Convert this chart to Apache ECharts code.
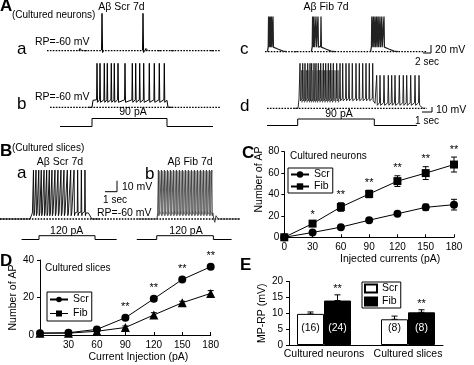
<!DOCTYPE html>
<html><head><meta charset="utf-8">
<script src="https://cdn.jsdelivr.net/npm/echarts@6/dist/echarts.min.js"></script>
<style>html,body{margin:0;padding:0;background:#fff;}#chart{width:474px;height:365px;}</style>
</head><body><div id="chart"></div>
<script>
const FONT = '"Liberation Sans", Arial, Helvetica, sans-serif';
const RP = -60; // resting potential, mV

// ---------- Panel C : cultured neurons ----------
const currents = [0, 30, 60, 90, 120, 150, 180];
const cScr = [0, 4.5, 9.5, 16, 22, 28, 30.5];
const cScrErr = [0.5, 1, 1, 1.2, 1.5, 3, 5];
const cFib = [0, 12.8, 28.3, 40.5, 52.5, 60, 68];
const cFibErr = [0.5, 1.5, 4, 3.5, 5, 6, 7];
const cSig = ['', '*', '**', '**', '**', '**', '**'];

// ---------- Panel D : cultured slices ----------
const dScr = [1, 1.2, 3, 9.2, 19.3, 29.6, 36.4];
const dScrErr = [0.3, 0.3, 0.5, 1, 1, 1, 1];
const dFib = [1, 1, 2, 4, 10.7, 17.2, 22.2];
const dFibErr = [0.2, 0.2, 0.5, 0.8, 1.2, 0.8, 1.5];
const dSig = ['', '', '', '**', '**', '**', '**'];

// ---------- Panel E : MP-RP ----------
const eGroups = ['Cultured neurons', 'Cultured slices'];
const eScr = [9.8, 8.1];
const eScrErr = [0.6, 1.0];
const eFib = [14.0, 10.3];
const eFibErr = [1.8, 0.8];
const eScrN = ['(16)', '(8)'];
const eFibN = ['(24)', '(8)'];
const eSig = ['**', '**'];

// ---------- Panel A traces (time s, membrane potential mV) ----------
const aSpikes = [5.5, 9.6];
const aPeak = 23;
const aBumps = [[3.3, -55], [3.8, -56], [9.9, -55], [11.2, -57], [12.5, -56], [16.5, -57]];
const bStep = [4.5, 12.0];
const bLevel = -46;
const bPeak = 28;
const bSpikes = [5.0, 5.3, 5.73, 6.03, 6.43, 6.73, 7.1, 7.8, 8.53, 8.87, 9.27, 9.67, 10.23, 10.73, 11.23, 11.73];
const cBursts = [[0.9, 1.25, 1.6, 2.0], [11.9, 12.25, 12.75, 13.25, 14.0], [26.7, 27.1, 27.5, 27.9, 28.3, 28.75, 29.2, 29.75]];
const cPeak = 18;
const cBumps = [[7.5, -56]];
const dStep = [3.1, 10.7];
const dLevel = -41;
const dPeak = 30;
const dSpikes = [3.3, 3.57, 3.8, 4.07, 4.3, 4.47, 4.7, 4.9, 5.13, 5.37, 5.63, 5.87, 6.13, 6.37, 6.63, 6.97, 7.3, 7.57, 7.9, 8.2, 8.53, 8.9, 9.23, 9.57, 9.9, 10.23, 10.57];
const dSpikes2 = [3.45, 3.7, 3.95, 4.2, 4.4, 4.6, 4.8, 5.0, 5.25, 5.5, 5.75, 6.0, 6.25, 6.5, 6.8, 7.1];
const dPeak2 = 16;
const dAfter = [10.97, 11.3, 11.7, 12.13, 12.47, 12.8, 13.23, 13.63, 13.97, 14.37, 14.8, 15.2];
const dAfterLevel = -50;
const dAfterPeak = 6;
// current commands (pA)
const cmdA = 90;
const cmdALeft = {range: [1.3, 16.6], step: [4.5, 12.0]};
const cmdARight = {range: [0, 15.0], step: [3.07, 10.73]};

// ---------- Panel B traces ----------
const sStepA = [2.5, 7.36];
const sSpikesA = [2.79, 3.0, 3.23, 3.44, 3.67, 3.89, 4.11, 4.33, 4.58, 4.83, 5.08, 5.33, 5.61, 5.89, 6.17, 6.47, 6.78, 7.08];
const sStepB = [13.08, 17.78];
const sSpikesB = [13.2, 13.45, 13.7, 13.95, 14.2, 14.45, 14.7, 14.95, 15.2, 15.45, 15.7, 15.95, 16.2, 16.45, 16.7, 16.95, 17.2, 17.45, 17.65];
const sSpikesB2 = [13.3, 13.55, 13.8, 14.05, 14.3, 14.58, 14.82, 15.08, 15.32, 15.58, 15.82, 16.08, 16.32, 16.58, 16.82, 17.08, 17.32, 17.55];
const sLevel = -54.5;
const sPeak = -15.5;
const cmdB = 120;
const cmdBLeft = {range: [1.8, 9.72], step: [3.25, 7.92]};
const cmdBRight = {range: [11.4, 19.3], step: [13.06, 17.78]};

// =====================================================
const grids = [], xAxis = [], yAxis = [], series = [], graphic = [];

function hiddenPanel(left, top, width, height, xr, yr) {
  const i = grids.length;
  grids.push({left, top, width, height, outerBoundsMode: 'none'});
  xAxis.push({gridIndex: i, type: 'value', min: xr[0], max: xr[1], show: false});
  yAxis.push({gridIndex: i, type: 'value', min: yr[0], max: yr[1], show: false});
  return i;
}
function addLine(g, data, color, width, dash, z) {
  series.push({type: 'line', xAxisIndex: g, yAxisIndex: g, data, symbol: 'none', clip: false, silent: true,
    connectNulls: false, lineStyle: {color, width, type: dash || 'solid'}, z: z || 3});
}
function spikesAt(times, level, peak, w, ahp, gap) {
  const d = [];
  times.forEach(t => {
    d.push([t - w, level + 1], [t, peak], [t + w * 1.2, level - ahp], [t + w * 3, level]);
    if (gap) d.push([t + w * 3, null]);
  });
  return d;
}
function bumpsAt(bumps, w) {
  const d = [];
  bumps.forEach(b => d.push([b[0] - w, RP], [b[0], b[1]], [b[0] + w * 1.5, RP], [b[0] + w * 1.5, null]));
  return d;
}
function cmdTrace(c, amp) {
  return [[c.range[0], 0], [c.step[0], 0], [c.step[0], amp], [c.step[1], amp], [c.step[1], 0], [c.range[1], 0]];
}
const DOT = [1.6, 1.3];

// ---- A a ----
const gAa = hiddenPanel(47, 10.2, 173, 42.75, [0, 17.3], [-65, 30]);
addLine(gAa, [[0, RP], [17.3, RP]], '#000', 1.3, DOT, 2);
addLine(gAa, spikesAt(aSpikes, RP, aPeak, 0.05, 4, true).concat(bumpsAt(aBumps, 0.12)), '#000', 1);
// ---- A b ----
const gAb = hiddenPanel(47, 59.8, 173, 50, [0, 17.3], [-65, 35]);
addLine(gAb, [[0.3, RP], [17.3, RP]], '#000', 1.3, DOT, 2);
addLine(gAb, [[bStep[0] - 0.4, RP], [bStep[0], RP], [bStep[0] + 0.1, bLevel]]
  .concat(spikesAt(bSpikes, bLevel, bPeak, 0.04, 4, false))
  .concat([[bStep[1], bLevel], [bStep[1] + 0.1, RP], [bStep[1] + 0.6, RP]]), '#000', 1);
// ---- A c ----
const gAc = hiddenPanel(265, 11.2, 162, 42.75, [0, 40.5], [-65, 30]);
addLine(gAc, [[0, RP], [40.5, RP]], '#000', 1.3, DOT, 2);
(function () {
  let d = [];
  cBursts.forEach(b => {
    const s = b[0], e = b[b.length - 1];
    d.push([s - 0.3, RP], [s - 0.1, RP]);
    b.forEach(t => d.push([t - 0.08, -48], [t, cPeak], [t + 0.1, -50]));
    d.push([e + 0.3, -47], [e + 1.2, -54], [e + 2.5, -58.5], [e + 3.5, RP], [e + 3.5, null]);
  });
  d = d.concat(bumpsAt(cBumps, 0.3));
  addLine(gAc, d, '#222', 1.3);
})();
// ---- A d ----
const gAd = hiddenPanel(267, 60.8, 160, 50, [0, 16], [-65, 35]);
addLine(gAd, [[0, RP], [16, RP]], '#000', 1.3, DOT, 2);
addLine(gAd, [[2.7, RP], [dStep[0], RP], [dStep[0] + 0.1, dLevel]]
  .concat(spikesAt(dSpikes, dLevel, dPeak, 0.04, 4, false))
  .concat([[dStep[1], dLevel], [dStep[1] + 0.1, dAfterLevel]])
  .concat(spikesAt(dAfter, dAfterLevel, dAfterPeak, 0.05, 4, false))
  .concat([[15.45, dAfterLevel], [15.6, RP], [15.8, RP]]), '#111', 0.9);
addLine(gAd, spikesAt(dSpikes2, dLevel - 2, dPeak2, 0.04, 5, true), '#444', 0.8);
// ---- A commands ----
const gCmdAL = hiddenPanel(47, 118.5, 173, 8, [0, 17.3], [0, cmdA]);
addLine(gCmdAL, cmdTrace(cmdALeft, cmdA), '#000', 1);
const gCmdAR = hiddenPanel(267, 119, 160, 6.5, [0, 16], [0, cmdA]);
addLine(gCmdAR, cmdTrace(cmdARight, cmdA), '#000', 1);

// ---- B traces ----
const gB = hiddenPanel(0, 166.2, 240, 55, [0, 20], [-62, -12]);
addLine(gB, [[0, RP], [20, RP]], '#000', 1.3, DOT, 2);
addLine(gB, [[0, RP], [sStepA[0], RP], [sStepA[0] + 0.2, sLevel]]
  .concat(spikesAt(sSpikesA, sLevel, sPeak, 0.03, 2.5, false))
  .concat([[sStepA[1], sLevel], [sStepA[1] + 0.3, RP], [8.3, RP]]), '#000', 0.9);
addLine(gB, [[11.5, RP], [sStepB[0], RP], [sStepB[0] + 0.06, sLevel]]
  .concat(spikesAt(sSpikesB, sLevel, sPeak, 0.03, 2.5, false))
  .concat([[sStepB[1], sLevel], [sStepB[1] + 0.03, RP], [sStepB[1] + 0.12, -63], [sStepB[1] + 0.22, -57], [sStepB[1] + 0.4, RP], [20, RP]]), '#333', 0.9);
addLine(gB, spikesAt(sSpikesB2, sLevel + 0.8, sPeak - 1, 0.03, 2, true), '#777', 0.8);
const gCmdB = hiddenPanel(0, 235.7, 240, 3.8, [0, 20], [0, cmdB]);
addLine(gCmdB, cmdTrace(cmdBLeft, cmdB), '#000', 1);
addLine(gCmdB, cmdTrace(cmdBRight, cmdB), '#000', 1);

// ---------- helpers for plots ----------
const axisTxt = {color: '#000', fontSize: 10, fontFamily: FONT};
function errSeries(g, data, cap, z) {
  series.push({type: 'custom', xAxisIndex: g, yAxisIndex: g, data, silent: true, z: z || 4,
    encode: {x: 0, y: [1, 2]},
    renderItem: (p, api) => {
      const x = api.value(0), lo = api.value(1), hi = api.value(2);
      const a = api.coord([x, hi]), b = api.coord([x, lo]);
      const st = {stroke: '#000', lineWidth: 1};
      return {type: 'group', children: [
        {type: 'line', shape: {x1: a[0], y1: a[1], x2: b[0], y2: b[1]}, style: st},
        {type: 'line', shape: {x1: a[0] - cap, y1: a[1], x2: a[0] + cap, y2: a[1]}, style: st},
        {type: 'line', shape: {x1: b[0] - cap, y1: b[1], x2: b[0] + cap, y2: b[1]}, style: st}
      ]};
    }});
}
function sigSeries(g, data, texts, off, fs) {
  series.push({type: 'custom', xAxisIndex: g, yAxisIndex: g, data, silent: true, z: 5,
    encode: {x: 0, y: 1},
    renderItem: (p, api) => {
      const c = api.coord([api.value(0), api.value(1)]);
      return {type: 'text', x: c[0], y: c[1] - off,
        style: {text: texts[p.dataIndex], align: 'center', verticalAlign: 'bottom', fontSize: fs || 11, fontFamily: FONT, fill: '#000'}};
    }});
}

// ---------- Panel C ----------
const gC = grids.length;
grids.push({left: 284.3, top: 151.7, width: 169.7, height: 85.6, outerBoundsMode: 'none'});
xAxis.push({gridIndex: gC, type: 'value', min: 0, max: 180, interval: 30,
  name: 'Injected currents (pA)', nameLocation: 'middle', nameGap: 16,
  nameTextStyle: {color: '#000', fontSize: 10.5, fontFamily: FONT, padding: [0, 0, 0, 42]},
  axisLine: {show: true, lineStyle: {color: '#000', width: 1}},
  axisTick: {show: true, inside: true, length: 3, lineStyle: {color: '#000'}},
  axisLabel: Object.assign({margin: 5}, axisTxt), splitLine: {show: false}});
yAxis.push({gridIndex: gC, type: 'value', min: 0, max: 80, interval: 20,
  name: 'Number of AP', nameLocation: 'middle', nameGap: 17, nameRotate: 90,
  nameTextStyle: {color: '#000', fontSize: 10.5, fontFamily: FONT, padding: [0, 0, 0, 30]},
  axisLine: {show: true, lineStyle: {color: '#000', width: 1}},
  axisTick: {show: true, length: 3, lineStyle: {color: '#000'}},
  axisLabel: Object.assign({margin: 5}, axisTxt), splitLine: {show: false}});
errSeries(gC, currents.map((x, i) => [x, cScr[i] - cScrErr[i], cScr[i] + cScrErr[i]]), 3);
errSeries(gC, currents.map((x, i) => [x, cFib[i] - cFibErr[i], cFib[i] + cFibErr[i]]), 3);
series.push({type: 'line', name: 'Scr', xAxisIndex: gC, yAxisIndex: gC, data: currents.map((x, i) => [x, cScr[i]]),
  symbol: 'circle', symbolSize: 8, itemStyle: {color: '#000'}, lineStyle: {color: '#000', width: 1}, z: 6});
series.push({type: 'line', name: 'Fib', xAxisIndex: gC, yAxisIndex: gC, data: currents.map((x, i) => [x, cFib[i]]),
  symbol: 'rect', symbolSize: 8, itemStyle: {color: '#000'}, lineStyle: {color: '#000', width: 1}, z: 6});
sigSeries(gC, currents.map((x, i) => [x, cFib[i] + cFibErr[i]]), cSig, 2);

// ---------- Panel D ----------
const gD = grids.length;
grids.push({left: 40, top: 260, width: 170.7, height: 75, outerBoundsMode: 'none'});
xAxis.push({gridIndex: gD, type: 'value', min: 0, max: 180, interval: 30,
  name: 'Current Injection (pA)', nameLocation: 'middle', nameGap: 17,
  nameTextStyle: {color: '#000', fontSize: 10.5, fontFamily: FONT, padding: [0, 0, 0, 26]},
  axisLine: {show: true, lineStyle: {color: '#000', width: 1}},
  axisTick: {show: true, inside: true, length: 3, lineStyle: {color: '#000'}},
  axisLabel: Object.assign({margin: 5, formatter: v => (v === 0 ? '' : v)}, axisTxt), splitLine: {show: false}});
yAxis.push({gridIndex: gD, type: 'value', min: 0, max: 40, interval: 20,
  name: 'Number of AP', nameLocation: 'middle', nameGap: 21, nameRotate: 90,
  nameTextStyle: {color: '#000', fontSize: 10.5, fontFamily: FONT},
  axisLine: {show: true, lineStyle: {color: '#000', width: 1}},
  axisTick: {show: true, length: 3, lineStyle: {color: '#000'}},
  axisLabel: Object.assign({margin: 6}, axisTxt), splitLine: {show: false}});
errSeries(gD, currents.map((x, i) => [x, dScr[i] - dScrErr[i], dScr[i] + dScrErr[i]]), 3);
errSeries(gD, currents.map((x, i) => [x, dFib[i] - dFibErr[i], dFib[i] + dFibErr[i]]), 3);
series.push({type: 'line', name: 'Scr', xAxisIndex: gD, yAxisIndex: gD, data: currents.map((x, i) => [x, dScr[i]]),
  symbol: 'circle', symbolSize: 8, itemStyle: {color: '#000'}, lineStyle: {color: '#000', width: 1}, z: 6});
series.push({type: 'line', name: 'Fib (slices)', xAxisIndex: gD, yAxisIndex: gD, data: currents.map((x, i) => [x, dFib[i]]),
  symbol: 'triangle', symbolSize: 9, itemStyle: {color: '#000'}, lineStyle: {color: '#000', width: 1}, z: 6});
sigSeries(gD, currents.map((x, i) => [x, dScr[i] + dScrErr[i]]), dSig, 3);

// ---------- Panel E ----------
const eX = [35, 119];   // group centres on the x axis of the bar panel
const eHalf = 13.5;
const gE = grids.length;
grids.push({left: 289, top: 281.5, width: 154, height: 63.5, outerBoundsMode: 'none'});
xAxis.push({gridIndex: gE, type: 'value', min: 0, max: 154,
  axisLine: {show: true, lineStyle: {color: '#000', width: 1}},
  axisTick: {show: false},
  axisLabel: Object.assign({margin: 4, customValues: eX, formatter: v => eGroups[eX.indexOf(v)] || '', fontSize: 10.5}, {color: '#000', fontFamily: FONT}),
  splitLine: {show: false}});
yAxis.push({gridIndex: gE, type: 'value', min: 0, max: 20, interval: 5,
  name: 'MP-RP (mV)', nameLocation: 'middle', nameGap: 21, nameRotate: 90,
  nameTextStyle: {color: '#000', fontSize: 10.5, fontFamily: FONT},
  axisLine: {show: true, lineStyle: {color: '#000', width: 1}},
  axisTick: {show: true, length: 3, lineStyle: {color: '#000'}},
  axisLabel: Object.assign({margin: 6}, axisTxt), splitLine: {show: false}});
errSeries(gE, eX.map((x, i) => [x - eHalf, eScr[i], eScr[i] + eScrErr[i]]), 3, 2);
errSeries(gE, eX.map((x, i) => [x + eHalf, eFib[i], eFib[i] + eFibErr[i]]), 3, 2);
series.push({type: 'bar', name: 'Scr bar', xAxisIndex: gE, yAxisIndex: gE, barWidth: 27, barGap: '0%',
  data: eX.map((x, i) => [x, eScr[i]]), itemStyle: {color: '#fff', borderColor: '#000', borderWidth: 1}, z: 3,
  label: {show: true, position: 'insideBottom', distance: 11, formatter: p => eScrN[p.dataIndex], color: '#000', fontSize: 10.5, fontFamily: FONT}});
series.push({type: 'bar', name: 'Fib bar', xAxisIndex: gE, yAxisIndex: gE, barWidth: 27, barGap: '0%',
  data: eX.map((x, i) => [x, eFib[i]]), itemStyle: {color: '#000', borderColor: '#000', borderWidth: 1}, z: 3,
  label: {show: true, position: 'insideBottom', distance: 11, formatter: p => eFibN[p.dataIndex], color: '#fff', fontSize: 10.5, fontFamily: FONT}});
sigSeries(gE, eX.map((x, i) => [x + eHalf, eFib[i] + eFibErr[i]]), eSig, 0);

// ---------- texts ----------
function T(text, x, y, size, opts) {
  graphic.push(Object.assign({type: 'text', x, y, silent: true,
    style: Object.assign({text, fontSize: size, fontFamily: FONT, fill: '#000', align: 'left', verticalAlign: 'middle'}, opts || {})}));
}
const B = {fontWeight: 'bold'}, C = {align: 'center'};
T('A', 0, 6, 17, B); T('B', 0, 151, 17, B); T('C', 242, 153, 17, B); T('D', 0, 261, 17, B); T('E', 240, 265, 17, B);
T('(Cultured neurons)', 12, 15, 10);
T('Aβ Scr 7d', 121.5, 7, 10.5, C); T('Aβ Fib 7d', 326, 7, 10.5, C);
T('RP=-60 mV', 35, 42, 10.5); T('RP=-60 mV', 35, 97, 10.5);
T('a', 17, 49, 17); T('b', 17, 104, 17); T('c', 240, 49, 17); T('d', 240, 106, 17);
T('20 mV', 435, 50, 10.5); T('2 sec', 427, 62, 10, C);
T('10 mV', 436, 110, 10.5); T('1 sec', 427, 121, 10, C);
T('90 pA', 133, 112.5, 10.5, C); T('90 pA', 339, 114, 10.5, C);
T('(Cultured slices)', 12, 148, 10);
T('Aβ Scr 7d', 60, 162, 10.5, C); T('Aβ Fib 7d', 190, 162, 10.5, C);
T('a', 17, 173, 17); T('b', 145, 174, 17);
T('10 mV', 122, 187, 10.5); T('1 sec', 115, 200, 10, C); T('RP=-60 mV', 97, 213, 10.5);
T('120 pA', 66.7, 231, 10.5, C); T('120 pA', 186, 231, 10.5, C);
T('Cultured neurons', 290, 156, 10);
T('Cultured slices', 45, 268, 10);
// scale bars
function bar(points) { graphic.push({type: 'polyline', silent: true, shape: {points}, style: {stroke: '#000', lineWidth: 1, fill: null}}); }
bar([[423, 53], [431, 53], [431, 45]]);
bar([[422, 112], [432, 112], [432, 107]]);
bar([[105, 191.7], [117, 191.7], [117, 180.7]]);

// legend icon: line with a square marker in the middle
const LINE_SQUARE = 'path://M0,3.5L6,3.5L6,1L12,1L12,3.5L18,3.5L18,4.5L12,4.5L12,7L6,7L6,4.5L0,4.5Z';
const legendBase = {orient: 'vertical', borderColor: '#000', borderWidth: 1, itemGap: 1, selectedMode: false,
  textStyle: {color: '#000', fontSize: 10.5, fontFamily: FONT, lineHeight: 11}};
const option = {
  animation: false,
  backgroundColor: '#fff',
  grid: grids, xAxis, yAxis, series, graphic,
  legend: [
    Object.assign({}, legendBase, {data: ['Scr', 'Fib'], left: 288, top: 168, itemWidth: 18, itemHeight: 8, padding: [1, 3, 1, 2]}),
    Object.assign({}, legendBase, {data: ['Scr', {name: 'Fib', icon: LINE_SQUARE}], left: 47, top: 292, itemWidth: 18, itemHeight: 7, padding: [2, 3, 2, 2], itemGap: 3}),
    Object.assign({}, legendBase, {data: ['Scr bar', 'Fib bar'], formatter: n => n.split(' ')[0], icon: 'rect',
      left: 362, top: 282, itemWidth: 12, itemHeight: 8, padding: [1, 3, 1, 2], itemGap: 2})
  ]
};
const chart = echarts.init(document.getElementById('chart'), null, {renderer: 'canvas'});
chart.setOption(option);
</script></body></html>
